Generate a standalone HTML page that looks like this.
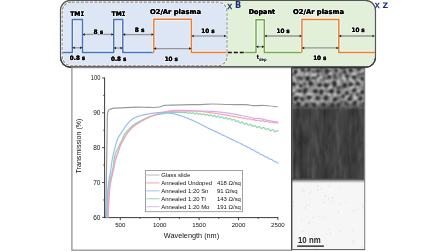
<!DOCTYPE html>
<html><head><meta charset="utf-8"><title>Figure</title>
<style>html,body{margin:0;padding:0;background:#ffffff;width:448px;height:252px;overflow:hidden}svg{display:block}</style>
</head><body>
<svg width="448" height="252" viewBox="0 0 448 252"><rect x="60.5" y="0.5" width="315" height="66.6" rx="9.5" fill="#e2f0d9" stroke="#5a5a5a" stroke-width="1.1"/>
<rect x="62.2" y="2.1" width="164.8" height="63.7" rx="9.5" fill="#dce6f4" stroke="#f7f9fc" stroke-width="2.0"/>
<rect x="62.2" y="2.1" width="164.8" height="63.7" rx="9.5" fill="none" stroke="#8e8e8e" stroke-width="1.05" stroke-dasharray="3.2 1.3"/>
<polyline points="62.5,52.4 72.3,52.4 72.3,19.5 82.5,19.5 82.5,52.4 113.7,52.4 113.7,19.5 122.8,19.5 122.8,52.4 153.8,52.4" fill="none" stroke="#ffffff" stroke-opacity="0.55" stroke-width="3.4"/><polyline points="62.5,52.4 72.3,52.4 72.3,19.5 82.5,19.5 82.5,52.4 113.7,52.4 113.7,19.5 122.8,19.5 122.8,52.4 153.8,52.4" fill="none" stroke="#4472c4" stroke-width="1.45"/>
<polyline points="153.8,52.4 153.8,19.3 191.4,19.3 191.4,52.4 226.5,52.4" fill="none" stroke="#ffffff" stroke-opacity="0.55" stroke-width="3.4"/><polyline points="153.8,52.4 153.8,19.3 191.4,19.3 191.4,52.4 226.5,52.4" fill="none" stroke="#ed7d31" stroke-width="1.45"/>
<line x1="227.8" y1="52.4" x2="243.8" y2="52.4" stroke="#111" stroke-width="1.5" stroke-dasharray="4 2"/>
<polyline points="244.6,52.4 256.0,52.4 256.0,19.8 264.3,19.8 264.3,52.4 301.9,52.4" fill="none" stroke="#ffffff" stroke-opacity="0.55" stroke-width="3.4"/><polyline points="244.6,52.4 256.0,52.4 256.0,19.8 264.3,19.8 264.3,52.4 301.9,52.4" fill="none" stroke="#70ad47" stroke-width="1.45"/>
<polyline points="301.9,52.4 301.9,19.5 338.8,19.5 338.8,52.4 375.0,52.4" fill="none" stroke="#ffffff" stroke-opacity="0.55" stroke-width="3.4"/><polyline points="301.9,52.4 301.9,19.5 338.8,19.5 338.8,52.4 375.0,52.4" fill="none" stroke="#ed7d31" stroke-width="1.45"/>
<line x1="74.14" y1="47.80" x2="80.66" y2="47.80" stroke="#969696" stroke-width="1.3"/><path d="M72.30,47.80 L74.60,46.55 L74.60,49.05 Z" fill="#111"/><path d="M82.50,47.80 L80.20,46.55 L80.20,49.05 Z" fill="#111"/>
<line x1="84.34" y1="34.40" x2="111.86" y2="34.40" stroke="#969696" stroke-width="1.3"/><path d="M82.50,34.40 L84.80,33.15 L84.80,35.65 Z" fill="#111"/><path d="M113.70,34.40 L111.40,33.15 L111.40,35.65 Z" fill="#111"/>
<line x1="115.54" y1="48.00" x2="120.96" y2="48.00" stroke="#969696" stroke-width="1.3"/><path d="M113.70,48.00 L116.00,46.75 L116.00,49.25 Z" fill="#111"/><path d="M122.80,48.00 L120.50,46.75 L120.50,49.25 Z" fill="#111"/>
<line x1="124.64" y1="34.60" x2="151.96" y2="34.60" stroke="#969696" stroke-width="1.3"/><path d="M122.80,34.60 L125.10,33.35 L125.10,35.85 Z" fill="#111"/><path d="M153.80,34.60 L151.50,33.35 L151.50,35.85 Z" fill="#111"/>
<line x1="155.64" y1="48.60" x2="189.56" y2="48.60" stroke="#969696" stroke-width="1.3"/><path d="M153.80,48.60 L156.10,47.35 L156.10,49.85 Z" fill="#111"/><path d="M191.40,48.60 L189.10,47.35 L189.10,49.85 Z" fill="#111"/>
<line x1="193.24" y1="36.00" x2="224.66" y2="36.00" stroke="#969696" stroke-width="1.3"/><path d="M191.40,36.00 L193.70,34.75 L193.70,37.25 Z" fill="#111"/><path d="M226.50,36.00 L224.20,34.75 L224.20,37.25 Z" fill="#111"/>
<line x1="257.84" y1="46.70" x2="262.46" y2="46.70" stroke="#969696" stroke-width="1.3"/><path d="M256.00,46.70 L258.30,45.45 L258.30,47.95 Z" fill="#111"/><path d="M264.30,46.70 L262.00,45.45 L262.00,47.95 Z" fill="#111"/>
<line x1="266.14" y1="36.00" x2="300.06" y2="36.00" stroke="#969696" stroke-width="1.3"/><path d="M264.30,36.00 L266.60,34.75 L266.60,37.25 Z" fill="#111"/><path d="M301.90,36.00 L299.60,34.75 L299.60,37.25 Z" fill="#111"/>
<line x1="303.74" y1="47.90" x2="336.96" y2="47.90" stroke="#969696" stroke-width="1.3"/><path d="M301.90,47.90 L304.20,46.65 L304.20,49.15 Z" fill="#111"/><path d="M338.80,47.90 L336.50,46.65 L336.50,49.15 Z" fill="#111"/>
<line x1="340.64" y1="36.00" x2="372.96" y2="36.00" stroke="#969696" stroke-width="1.3"/><path d="M338.80,36.00 L341.10,34.75 L341.10,37.25 Z" fill="#111"/><path d="M374.80,36.00 L372.50,34.75 L372.50,37.25 Z" fill="#111"/>
<g stroke="#ffffff" stroke-width="1.7" stroke-opacity="0.7" stroke-linejoin="round" paint-order="stroke"><text x="70.20" y="15.50" font-family="DejaVu Sans, Verdana, sans-serif" font-weight="bold" font-size="6.30" text-anchor="start" fill="#000" textLength="13.9" lengthAdjust="spacingAndGlyphs">TM<tspan font-family="DejaVu Sans Mono">I</tspan></text><text x="111.60" y="15.50" font-family="DejaVu Sans, Verdana, sans-serif" font-weight="bold" font-size="6.30" text-anchor="start" fill="#000" textLength="13.9" lengthAdjust="spacingAndGlyphs">TM<tspan font-family="DejaVu Sans Mono">I</tspan></text><text x="150.00" y="14.00" font-family="DejaVu Sans, Verdana, sans-serif" font-weight="bold" font-size="6.70" text-anchor="start" fill="#000" textLength="51.0" lengthAdjust="spacingAndGlyphs">O2/Ar plasma</text><text x="248.80" y="14.00" font-family="DejaVu Sans, Verdana, sans-serif" font-weight="bold" font-size="6.70" text-anchor="start" fill="#000" textLength="26.2" lengthAdjust="spacingAndGlyphs">Dopant</text><text x="293.10" y="14.00" font-family="DejaVu Sans, Verdana, sans-serif" font-weight="bold" font-size="6.70" text-anchor="start" fill="#000" textLength="51.0" lengthAdjust="spacingAndGlyphs">O2/Ar plasma</text><text x="77.50" y="59.80" font-family="DejaVu Sans, Verdana, sans-serif" font-weight="bold" font-size="6.00" text-anchor="middle" fill="#000" textLength="15.4" lengthAdjust="spacingAndGlyphs">0.8 s</text><text x="118.70" y="61.30" font-family="DejaVu Sans, Verdana, sans-serif" font-weight="bold" font-size="6.00" text-anchor="middle" fill="#000" textLength="15.4" lengthAdjust="spacingAndGlyphs">0.8 s</text><text x="98.40" y="33.50" font-family="DejaVu Sans, Verdana, sans-serif" font-weight="bold" font-size="6.00" text-anchor="middle" fill="#000" textLength="9.7" lengthAdjust="spacingAndGlyphs">8 s</text><text x="139.70" y="32.30" font-family="DejaVu Sans, Verdana, sans-serif" font-weight="bold" font-size="6.00" text-anchor="middle" fill="#000" textLength="9.7" lengthAdjust="spacingAndGlyphs">8 s</text><text x="171.30" y="60.60" font-family="DejaVu Sans, Verdana, sans-serif" font-weight="bold" font-size="6.00" text-anchor="middle" fill="#000" textLength="13.3" lengthAdjust="spacingAndGlyphs">10 s</text><text x="207.90" y="32.60" font-family="DejaVu Sans, Verdana, sans-serif" font-weight="bold" font-size="6.00" text-anchor="middle" fill="#000" textLength="13.3" lengthAdjust="spacingAndGlyphs">10 s</text><text x="283.10" y="32.80" font-family="DejaVu Sans, Verdana, sans-serif" font-weight="bold" font-size="6.00" text-anchor="middle" fill="#000" textLength="13.3" lengthAdjust="spacingAndGlyphs">10 s</text><text x="319.80" y="59.90" font-family="DejaVu Sans, Verdana, sans-serif" font-weight="bold" font-size="6.00" text-anchor="middle" fill="#000" textLength="13.3" lengthAdjust="spacingAndGlyphs">10 s</text><text x="358.10" y="31.80" font-family="DejaVu Sans, Verdana, sans-serif" font-weight="bold" font-size="6.00" text-anchor="middle" fill="#000" textLength="13.3" lengthAdjust="spacingAndGlyphs">10 s</text></g>
<g stroke="#000" stroke-width="0.22" stroke-linejoin="round"><text x="70.20" y="15.50" font-family="DejaVu Sans, Verdana, sans-serif" font-weight="bold" font-size="6.30" text-anchor="start" fill="#000" textLength="13.9" lengthAdjust="spacingAndGlyphs">TM<tspan font-family="DejaVu Sans Mono">I</tspan></text><text x="111.60" y="15.50" font-family="DejaVu Sans, Verdana, sans-serif" font-weight="bold" font-size="6.30" text-anchor="start" fill="#000" textLength="13.9" lengthAdjust="spacingAndGlyphs">TM<tspan font-family="DejaVu Sans Mono">I</tspan></text><text x="150.00" y="14.00" font-family="DejaVu Sans, Verdana, sans-serif" font-weight="bold" font-size="6.70" text-anchor="start" fill="#000" textLength="51.0" lengthAdjust="spacingAndGlyphs">O2/Ar plasma</text><text x="248.80" y="14.00" font-family="DejaVu Sans, Verdana, sans-serif" font-weight="bold" font-size="6.70" text-anchor="start" fill="#000" textLength="26.2" lengthAdjust="spacingAndGlyphs">Dopant</text><text x="293.10" y="14.00" font-family="DejaVu Sans, Verdana, sans-serif" font-weight="bold" font-size="6.70" text-anchor="start" fill="#000" textLength="51.0" lengthAdjust="spacingAndGlyphs">O2/Ar plasma</text><text x="77.50" y="59.80" font-family="DejaVu Sans, Verdana, sans-serif" font-weight="bold" font-size="6.00" text-anchor="middle" fill="#000" textLength="15.4" lengthAdjust="spacingAndGlyphs">0.8 s</text><text x="118.70" y="61.30" font-family="DejaVu Sans, Verdana, sans-serif" font-weight="bold" font-size="6.00" text-anchor="middle" fill="#000" textLength="15.4" lengthAdjust="spacingAndGlyphs">0.8 s</text><text x="98.40" y="33.50" font-family="DejaVu Sans, Verdana, sans-serif" font-weight="bold" font-size="6.00" text-anchor="middle" fill="#000" textLength="9.7" lengthAdjust="spacingAndGlyphs">8 s</text><text x="139.70" y="32.30" font-family="DejaVu Sans, Verdana, sans-serif" font-weight="bold" font-size="6.00" text-anchor="middle" fill="#000" textLength="9.7" lengthAdjust="spacingAndGlyphs">8 s</text><text x="171.30" y="60.60" font-family="DejaVu Sans, Verdana, sans-serif" font-weight="bold" font-size="6.00" text-anchor="middle" fill="#000" textLength="13.3" lengthAdjust="spacingAndGlyphs">10 s</text><text x="207.90" y="32.60" font-family="DejaVu Sans, Verdana, sans-serif" font-weight="bold" font-size="6.00" text-anchor="middle" fill="#000" textLength="13.3" lengthAdjust="spacingAndGlyphs">10 s</text><text x="283.10" y="32.80" font-family="DejaVu Sans, Verdana, sans-serif" font-weight="bold" font-size="6.00" text-anchor="middle" fill="#000" textLength="13.3" lengthAdjust="spacingAndGlyphs">10 s</text><text x="319.80" y="59.90" font-family="DejaVu Sans, Verdana, sans-serif" font-weight="bold" font-size="6.00" text-anchor="middle" fill="#000" textLength="13.3" lengthAdjust="spacingAndGlyphs">10 s</text><text x="358.10" y="31.80" font-family="DejaVu Sans, Verdana, sans-serif" font-weight="bold" font-size="6.00" text-anchor="middle" fill="#000" textLength="13.3" lengthAdjust="spacingAndGlyphs">10 s</text></g>
<text x="256.6" y="58.9" font-family="DejaVu Sans, sans-serif" font-weight="bold" font-size="6.0" fill="#000" stroke="#fff" stroke-width="1.4" stroke-opacity="0.7" paint-order="stroke">t</text>
<text x="258.9" y="60.5" font-family="DejaVu Sans, sans-serif" font-weight="bold" font-size="4.3" fill="#000" textLength="7.8" lengthAdjust="spacingAndGlyphs" stroke="#fff" stroke-width="1.2" stroke-opacity="0.7" paint-order="stroke">dep</text>
<text x="227.3" y="8.5" font-family="DejaVu Sans, sans-serif" font-size="8.4" fill="#1c2a7c" stroke="#1c2a7c" stroke-width="0.3">x</text><text x="235.0" y="8.2" font-family="DejaVu Sans, sans-serif" font-weight="bold" font-size="8.1" fill="#1c2a7c">B</text>
<text x="374.7" y="8.0" font-family="DejaVu Sans, sans-serif" font-size="8.4" fill="#1c2a7c" stroke="#1c2a7c" stroke-width="0.3">x</text><text x="382.6" y="7.5" font-family="DejaVu Sans, sans-serif" font-weight="bold" font-size="7.7" fill="#1c2a7c">Z</text>
<rect x="60.5" y="0.5" width="315" height="66.6" rx="9.5" fill="none" stroke="#555" stroke-width="1.1"/>
<path d="M60.5,57.6 A9.5,9.5 0 0 0 70,67.1 L366,67.1 A9.5,9.5 0 0 0 375.5,57.6" fill="none" stroke="#3a3a3a" stroke-width="1.1"/>
<rect x="71.9" y="67.6" width="219.7" height="182.6" fill="#ffffff" stroke="#8a8a8a" stroke-width="1.2"/>
<line x1="104.6" y1="77.5" x2="104.6" y2="217.9" stroke="#222" stroke-width="0.9"/>
<line x1="104.2" y1="217.6" x2="278.3" y2="217.6" stroke="#222" stroke-width="0.9"/>
<line x1="102.1" y1="217.40" x2="104.6" y2="217.40" stroke="#222" stroke-width="0.8"/>
<text x="100.4" y="219.70" font-family="Liberation Sans, Arial, sans-serif" font-size="6.5" text-anchor="end" fill="#111">60</text>
<line x1="102.1" y1="182.55" x2="104.6" y2="182.55" stroke="#222" stroke-width="0.8"/>
<text x="100.4" y="184.85" font-family="Liberation Sans, Arial, sans-serif" font-size="6.5" text-anchor="end" fill="#111">70</text>
<line x1="102.1" y1="147.70" x2="104.6" y2="147.70" stroke="#222" stroke-width="0.8"/>
<text x="100.4" y="150.00" font-family="Liberation Sans, Arial, sans-serif" font-size="6.5" text-anchor="end" fill="#111">80</text>
<line x1="102.1" y1="112.85" x2="104.6" y2="112.85" stroke="#222" stroke-width="0.8"/>
<text x="100.4" y="115.15" font-family="Liberation Sans, Arial, sans-serif" font-size="6.5" text-anchor="end" fill="#111">90</text>
<line x1="102.1" y1="78.00" x2="104.6" y2="78.00" stroke="#222" stroke-width="0.8"/>
<text x="100.4" y="80.30" font-family="Liberation Sans, Arial, sans-serif" font-size="6.5" text-anchor="end" fill="#111" textLength="9.6" lengthAdjust="spacingAndGlyphs">100</text>
<line x1="103.2" y1="199.97" x2="104.6" y2="199.97" stroke="#222" stroke-width="0.7"/>
<line x1="103.2" y1="165.12" x2="104.6" y2="165.12" stroke="#222" stroke-width="0.7"/>
<line x1="103.2" y1="130.28" x2="104.6" y2="130.28" stroke="#222" stroke-width="0.7"/>
<line x1="103.2" y1="95.43" x2="104.6" y2="95.43" stroke="#222" stroke-width="0.7"/>
<line x1="120.30" y1="217.6" x2="120.30" y2="220.1" stroke="#222" stroke-width="0.8"/>
<text x="120.30" y="227.4" font-family="Liberation Sans, Arial, sans-serif" font-size="6.1" text-anchor="middle" fill="#111">500</text>
<line x1="159.70" y1="217.6" x2="159.70" y2="220.1" stroke="#222" stroke-width="0.8"/>
<text x="159.70" y="227.4" font-family="Liberation Sans, Arial, sans-serif" font-size="6.1" text-anchor="middle" fill="#111">1000</text>
<line x1="199.10" y1="217.6" x2="199.10" y2="220.1" stroke="#222" stroke-width="0.8"/>
<text x="199.10" y="227.4" font-family="Liberation Sans, Arial, sans-serif" font-size="6.1" text-anchor="middle" fill="#111">1500</text>
<line x1="238.50" y1="217.6" x2="238.50" y2="220.1" stroke="#222" stroke-width="0.8"/>
<text x="238.50" y="227.4" font-family="Liberation Sans, Arial, sans-serif" font-size="6.1" text-anchor="middle" fill="#111">2000</text>
<line x1="277.90" y1="217.6" x2="277.90" y2="220.1" stroke="#222" stroke-width="0.8"/>
<text x="277.90" y="227.4" font-family="Liberation Sans, Arial, sans-serif" font-size="6.1" text-anchor="middle" fill="#111">2500</text>
<line x1="140.00" y1="217.6" x2="140.00" y2="219.0" stroke="#222" stroke-width="0.7"/>
<line x1="179.40" y1="217.6" x2="179.40" y2="219.0" stroke="#222" stroke-width="0.7"/>
<line x1="218.80" y1="217.6" x2="218.80" y2="219.0" stroke="#222" stroke-width="0.7"/>
<line x1="258.20" y1="217.6" x2="258.20" y2="219.0" stroke="#222" stroke-width="0.7"/>
<text x="191.5" y="238.3" font-family="Liberation Sans, Arial, sans-serif" font-size="7.3" text-anchor="middle" fill="#111">Wavelength (nm)</text>
<text transform="translate(80.9,146.0) rotate(-90)" font-family="Liberation Sans, Arial, sans-serif" font-size="7.1" text-anchor="middle" fill="#111">Transmission (%)</text>
<path d="M105.80,217.40 C105.87,212.83 106.05,199.57 106.20,190.00 C106.35,180.43 106.55,169.17 106.70,160.00 C106.85,150.83 107.00,142.00 107.10,135.00 C107.20,128.00 107.22,121.67 107.30,118.00 C107.38,114.33 107.43,114.23 107.60,113.00 C107.77,111.77 107.98,111.18 108.30,110.60 C108.62,110.02 108.77,109.87 109.50,109.50 C110.23,109.13 111.62,108.63 112.70,108.40 C113.78,108.17 113.95,108.23 116.00,108.10 C118.05,107.97 121.33,107.75 125.00,107.60 C128.67,107.45 134.50,107.25 138.00,107.20 C141.50,107.15 143.33,107.25 146.00,107.30 C148.67,107.35 151.75,107.55 154.00,107.50 C156.25,107.45 158.08,107.25 159.50,107.00 C160.92,106.75 161.67,106.27 162.50,106.00 C163.33,105.73 163.25,105.53 164.50,105.40 C165.75,105.27 167.03,105.30 170.00,105.20 C172.97,105.10 177.63,104.90 182.30,104.80 C186.97,104.70 193.00,104.73 198.00,104.60 C203.00,104.47 207.30,104.02 212.30,104.00 C217.30,103.98 222.38,104.38 228.00,104.50 C233.62,104.62 241.78,104.50 246.00,104.70 C250.22,104.90 250.30,105.57 253.30,105.70 C256.30,105.83 259.97,105.32 264.00,105.50 C268.03,105.68 275.25,106.58 277.50,106.80" stroke="#9a9a9a" fill="none" stroke-width="1.2" stroke-linejoin="round"/>
<path d="M107.90,217.40 C108.07,213.50 108.48,199.90 108.90,194.00 C109.32,188.10 109.70,186.00 110.40,182.00 C111.10,178.00 112.33,173.62 113.10,170.00 C113.87,166.38 114.28,163.03 115.00,160.30 C115.72,157.57 116.58,155.98 117.40,153.60 C118.22,151.22 118.95,148.32 119.90,146.00 C120.85,143.68 122.00,141.70 123.10,139.70 C124.20,137.70 125.53,135.47 126.50,134.00 C127.47,132.53 127.77,132.18 128.90,130.90 C130.03,129.62 131.52,127.75 133.30,126.30 C135.08,124.85 137.57,123.45 139.60,122.20 C141.63,120.95 143.17,119.93 145.50,118.80 C147.83,117.67 150.88,116.37 153.60,115.40 C156.32,114.43 159.12,113.63 161.80,113.00 C164.48,112.37 167.08,111.90 169.70,111.60 C172.32,111.30 174.62,111.28 177.50,111.20 C180.38,111.12 183.58,111.13 187.00,111.10 C190.42,111.07 193.78,110.97 198.00,111.00 C202.22,111.03 206.97,110.92 212.30,111.30 C217.63,111.68 225.47,112.67 230.00,113.30 C234.53,113.93 236.33,114.48 239.50,115.10 C242.67,115.72 246.42,116.43 249.00,117.00 C251.58,117.57 253.32,118.28 255.00,118.50 C256.68,118.72 257.22,118.03 259.10,118.30 C260.98,118.57 263.38,119.52 266.30,120.10 C269.22,120.68 274.62,121.50 276.60,121.80 C278.58,122.10 277.93,121.88 278.20,121.90" stroke="#cdb0f4" fill="none" stroke-width="1.2" stroke-linejoin="round"/>
<path d="M107.20,217.40 L107.28,214.72 L107.39,210.91 L107.51,206.45 L107.66,201.82 L107.82,197.51 L108.00,194.00 L108.18,191.34 L108.36,189.16 L108.55,187.29 L108.78,185.58 L109.06,183.87 L109.40,182.00 L109.85,179.97 L110.40,177.91 L111.00,175.86 L111.60,173.83 L112.15,171.87 L112.60,170.00 L112.94,168.22 L113.20,166.49 L113.41,164.82 L113.60,163.23 L113.79,161.72 L114.00,160.30 L114.21,159.02 L114.39,157.88 L114.57,156.82 L114.78,155.79 L115.05,154.73 L115.40,153.60 L115.87,152.36 L116.44,151.05 L117.07,149.71 L117.71,148.40 L118.34,147.14 L118.90,146.00 L119.39,145.00 L119.85,144.11 L120.29,143.28 L120.71,142.47 L121.15,141.63 L121.60,140.70 L122.07,139.65 L122.55,138.51 L123.03,137.34 L123.52,136.20 L124.01,135.13 L124.50,134.20 L124.98,133.44 L125.44,132.81 L125.91,132.27 L126.40,131.75 L126.92,131.21 L127.50,130.60 L128.14,129.90 L128.82,129.15 L129.54,128.38 L130.28,127.61 L131.04,126.88 L131.80,126.20 L132.59,125.57 L133.00,125.27 L133.41,124.96 L133.84,124.68 L134.26,124.39 L134.67,124.12 L135.09,123.85 L135.88,123.35 L136.60,122.90 L137.22,122.52 L137.74,122.23 L138.23,121.97 L138.73,121.72 L139.30,121.44 L140.00,121.10 L140.41,120.90 L140.81,120.69 L141.26,120.47 L141.70,120.24 L142.18,120.00 L142.66,119.76 L143.17,119.52 L143.69,119.27 L144.23,119.02 L144.77,118.78 L145.33,118.54 L145.90,118.30 L146.30,118.14 L146.71,117.98 L147.11,117.82 L147.55,117.65 L147.98,117.49 L148.41,117.32 L148.87,117.16 L149.32,116.99 L149.78,116.83 L150.24,116.66 L150.70,116.50 L151.16,116.34 L151.62,116.20 L152.09,116.05 L152.55,115.90 L153.00,115.76 L153.45,115.63 L153.90,115.50 L154.35,115.39 L154.79,115.27 L155.24,115.16 L155.70,115.05 L156.15,114.95 L156.60,114.85 L157.06,114.76 L157.51,114.67 L157.96,114.58 L158.41,114.50 L158.85,114.42 L159.30,114.34 L159.73,114.26 L160.15,114.19 L160.58,114.11 L160.99,114.04 L161.39,113.97 L161.80,113.90 L162.35,113.80 L162.89,113.71 L163.38,113.62 L163.87,113.54 L164.34,113.46 L164.80,113.39 L165.28,113.32 L165.75,113.25 L166.27,113.19 L166.80,113.12 L167.20,113.08 L167.60,113.04 L168.00,113.00 L168.46,112.96 L168.93,112.91 L169.39,112.87 L169.90,112.83 L170.41,112.78 L170.92,112.74 L171.33,112.71 L171.73,112.68 L172.14,112.65 L172.54,112.62 L172.96,112.59 L173.38,112.57 L173.79,112.54 L174.21,112.51 L174.63,112.50 L175.04,112.48 L175.46,112.46 L175.88,112.44 L176.28,112.43 L176.69,112.42 L177.09,112.41 L177.50,112.40 L178.01,112.40 L178.53,112.40 L179.04,112.40 L179.54,112.41 L180.04,112.42 L180.54,112.43 L181.04,112.45 L181.53,112.47 L182.03,112.49 L182.55,112.52 L183.06,112.55 L183.57,112.58 L183.98,112.60 L184.39,112.64 L184.80,112.70 L185.21,112.72 L185.66,112.71 L186.11,112.66 L186.55,112.65 L187.00,112.73 L187.49,112.90 L187.99,113.06 L188.48,113.07 L188.97,112.92 L189.40,112.76 L189.82,112.71 L190.25,112.83 L190.67,113.09 L191.10,113.37 L191.54,113.50 L191.99,113.38 L192.44,113.09 L192.88,112.83 L193.33,112.81 L193.78,113.10 L194.23,113.55 L194.68,113.90 L195.14,113.92 L195.59,113.60 L196.04,113.16 L196.49,112.93 L196.94,113.08 L197.38,113.55 L197.83,114.07 L198.27,114.34 L198.70,114.25 L199.13,113.88 L199.57,113.46 L200.00,113.27 L200.41,113.42 L200.81,113.84 L201.22,114.34 L201.62,114.69 L202.03,114.74 L202.51,114.44 L202.99,113.97 L203.47,113.70 L203.95,113.86 L204.43,114.38 L204.90,114.95 L205.38,115.25 L205.86,115.12 L206.35,114.68 L206.84,114.28 L207.33,114.25 L207.83,114.66 L208.25,115.19 L208.67,115.65 L209.10,115.82 L209.52,115.66 L209.95,115.29 L210.42,114.89 L210.89,114.80 L211.36,115.11 L211.83,115.69 L212.30,116.23 L212.76,116.45 L213.21,116.28 L213.67,115.88 L214.12,115.50 L214.58,115.41 L215.03,115.70 L215.47,116.23 L215.91,116.77 L216.35,117.08 L216.79,117.03 L217.23,116.70 L217.66,116.29 L218.10,116.05 L218.51,116.12 L218.91,116.47 L219.31,116.98 L219.71,117.47 L220.12,117.75 L220.52,117.74 L220.92,117.47 L221.33,117.09 L221.78,116.76 L222.23,116.75 L222.69,117.10 L223.14,117.68 L223.60,118.22 L224.05,118.49 L224.51,118.39 L224.93,118.06 L225.35,117.67 L225.77,117.44 L226.20,117.52 L226.62,117.89 L227.04,118.44 L227.46,118.96 L227.89,119.26 L228.31,119.25 L228.73,118.96 L229.15,118.57 L229.58,118.29 L230.00,118.27 L230.41,118.58 L230.82,119.10 L231.23,119.66 L231.65,120.09 L232.06,120.24 L232.49,120.11 L232.92,119.78 L233.35,119.45 L233.77,119.31 L234.27,119.57 L234.77,120.19 L235.26,120.91 L235.72,121.42 L236.18,121.58 L236.64,121.40 L237.10,121.04 L237.55,120.76 L238.01,120.77 L238.51,121.16 L239.00,121.85 L239.50,122.53 L239.90,122.87 L240.31,122.93 L240.71,122.74 L241.11,122.40 L241.52,122.08 L241.94,121.94 L242.35,122.09 L242.76,122.51 L243.17,123.07 L243.58,123.63 L243.99,124.00 L244.41,124.10 L244.81,123.92 L245.21,123.59 L245.62,123.25 L246.02,123.06 L246.53,123.20 L247.05,123.75 L247.56,124.47 L248.04,125.03 L248.52,125.25 L249.00,125.09 L249.44,124.74 L249.88,124.38 L250.32,124.21 L250.73,124.34 L251.14,124.74 L251.56,125.30 L252.14,126.09 L252.72,126.49 L253.28,126.36 L253.83,125.91 L254.38,125.52 L254.92,125.51 L255.46,125.96 L256.00,126.70 L256.54,127.37 L257.08,127.66 L257.61,127.49 L258.14,127.02 L258.65,126.57 L259.17,126.43 L259.67,126.69 L260.16,127.27 L260.64,127.90 L261.11,128.37 L261.55,128.53 L262.00,128.36 L262.40,128.04 L262.80,127.66 L263.53,127.34 L264.20,127.74 L264.86,128.64 L265.55,129.46 L266.30,129.62 L267.10,129.01 L267.50,128.68 L267.91,128.51 L268.33,128.59 L268.75,128.95 L269.19,129.52 L269.62,130.13 L270.08,130.63 L270.54,130.83 L271.02,130.69 L271.50,130.29 L272.05,129.80 L272.61,129.58 L273.03,129.73 L273.45,130.13 L273.87,130.69 L274.31,131.27 L274.74,131.70 L275.18,131.85 L275.59,131.72 L276.00,131.40 L276.41,131.00 L276.93,130.61 L277.45,130.56 L278.20,131.20" stroke="#90d6aa" fill="none" stroke-width="1.2" stroke-linejoin="round"/>
<path d="M108.20,217.40 L108.32,214.72 L108.47,210.91 L108.66,206.45 L108.86,201.82 L109.08,197.51 L109.30,194.00 L109.51,191.34 L109.73,189.16 L109.95,187.29 L110.20,185.58 L110.48,183.87 L110.80,182.00 L111.19,179.97 L111.64,177.91 L112.12,175.86 L112.61,173.83 L113.08,171.87 L113.50,170.00 L113.86,168.22 L114.17,166.49 L114.47,164.82 L114.76,163.23 L115.06,161.72 L115.40,160.30 L115.77,159.02 L116.16,157.88 L116.56,156.82 L116.97,155.79 L117.39,154.73 L117.80,153.60 L118.20,152.37 L118.60,151.09 L119.00,149.77 L119.41,148.47 L119.84,147.20 L120.30,146.00 L120.79,144.87 L121.31,143.78 L121.84,142.73 L122.39,141.71 L122.95,140.70 L123.50,139.70 L124.07,138.69 L124.66,137.66 L125.25,136.65 L125.83,135.69 L126.39,134.79 L126.90,134.00 L127.33,133.35 L127.70,132.83 L128.04,132.38 L128.39,131.94 L128.80,131.47 L129.30,130.90 L129.90,130.23 L130.55,129.49 L131.26,128.72 L132.02,127.93 L132.43,127.54 L132.83,127.15 L133.27,126.77 L133.70,126.40 L134.17,126.04 L134.64,125.67 L135.16,125.31 L135.67,124.95 L136.22,124.59 L136.76,124.23 L137.31,123.88 L137.86,123.53 L138.41,123.19 L138.95,122.85 L139.48,122.53 L140.00,122.20 L140.49,121.89 L140.98,121.59 L141.45,121.30 L141.92,121.01 L142.38,120.74 L142.84,120.46 L143.32,120.19 L143.79,119.92 L144.30,119.64 L144.80,119.37 L145.35,119.08 L145.90,118.80 L146.30,118.60 L146.71,118.40 L147.11,118.20 L147.55,117.99 L147.98,117.79 L148.41,117.58 L148.87,117.37 L149.32,117.16 L149.78,116.95 L150.24,116.74 L150.70,116.54 L151.16,116.33 L151.62,116.14 L152.09,115.94 L152.55,115.74 L153.00,115.56 L153.45,115.38 L153.90,115.20 L154.34,115.03 L154.78,114.87 L155.22,114.70 L155.66,114.54 L156.10,114.38 L156.54,114.23 L156.98,114.08 L157.42,113.93 L157.86,113.78 L158.29,113.64 L158.73,113.50 L159.17,113.36 L159.61,113.23 L160.05,113.10 L160.48,112.97 L160.92,112.85 L161.36,112.72 L161.80,112.60 L162.24,112.48 L162.68,112.37 L163.12,112.25 L163.56,112.14 L164.00,112.03 L164.44,111.93 L164.88,111.83 L165.32,111.73 L165.76,111.62 L166.20,111.53 L166.63,111.44 L167.07,111.35 L167.51,111.27 L167.95,111.19 L168.39,111.11 L168.83,111.04 L169.26,110.97 L169.70,110.90 L170.13,110.84 L170.56,110.78 L170.99,110.73 L171.41,110.68 L171.82,110.63 L172.24,110.59 L172.66,110.55 L173.08,110.52 L173.50,110.48 L173.93,110.45 L174.35,110.43 L174.78,110.40 L175.22,110.38 L175.66,110.36 L176.10,110.34 L176.57,110.33 L177.03,110.31 L177.50,110.30 L177.98,110.29 L178.46,110.29 L178.94,110.28 L179.43,110.28 L179.92,110.28 L180.41,110.29 L180.92,110.29 L181.42,110.30 L181.93,110.31 L182.45,110.33 L182.98,110.34 L183.51,110.36 L183.93,110.38 L184.35,110.39 L184.77,110.41 L185.19,110.42 L185.65,110.44 L186.10,110.46 L186.55,110.48 L187.00,110.50 L187.49,110.52 L187.99,110.54 L188.48,110.57 L188.97,110.59 L189.40,110.61 L189.82,110.63 L190.25,110.65 L190.67,110.67 L191.10,110.69 L191.54,110.72 L191.99,110.74 L192.44,110.76 L192.88,110.79 L193.33,110.81 L193.78,110.84 L194.23,110.87 L194.68,110.90 L195.14,110.92 L195.59,110.95 L196.04,110.98 L196.49,111.02 L196.94,111.05 L197.38,111.08 L197.83,111.11 L198.27,111.15 L198.70,111.19 L199.13,111.23 L199.57,111.26 L200.00,111.30 L200.41,111.34 L200.81,111.38 L201.22,111.42 L201.62,111.47 L202.03,111.51 L202.51,111.56 L202.99,111.62 L203.47,111.67 L203.95,111.73 L204.43,111.79 L204.90,111.85 L205.38,111.91 L205.86,111.97 L206.35,112.04 L206.84,112.11 L207.33,112.18 L207.83,112.25 L208.25,112.31 L208.67,112.37 L209.10,112.43 L209.52,112.49 L209.95,112.55 L210.42,112.62 L210.89,112.69 L211.36,112.76 L211.83,112.83 L212.30,112.90 L212.76,112.97 L213.21,113.04 L213.67,113.10 L214.12,113.17 L214.58,113.24 L215.03,113.31 L215.47,113.38 L215.91,113.45 L216.35,113.51 L216.79,113.58 L217.23,113.65 L217.66,113.72 L218.10,113.79 L218.51,113.85 L218.91,113.91 L219.31,113.98 L219.71,114.04 L220.12,114.10 L220.52,114.17 L220.92,114.23 L221.33,114.29 L221.78,114.37 L222.23,114.44 L222.69,114.51 L223.14,114.59 L223.60,114.66 L224.05,114.73 L224.51,114.80 L224.93,114.87 L225.35,114.94 L225.77,115.01 L226.20,115.08 L226.62,115.15 L227.04,115.21 L227.46,115.28 L227.89,115.35 L228.31,115.42 L228.73,115.49 L229.15,115.56 L229.58,115.63 L230.00,115.70 L230.41,115.78 L230.82,115.86 L231.23,115.94 L231.65,116.00 L232.06,116.04 L232.49,116.08 L232.92,116.12 L233.35,116.20 L233.77,116.32 L234.27,116.49 L234.77,116.66 L235.26,116.76 L235.72,116.78 L236.18,116.75 L236.64,116.73 L237.10,116.77 L237.55,116.91 L238.01,117.12 L238.51,117.38 L239.00,117.56 L239.50,117.61 L239.90,117.55 L240.31,117.45 L240.71,117.37 L241.11,117.37 L241.52,117.48 L241.94,117.70 L242.35,117.98 L242.76,118.22 L243.17,118.36 L243.58,118.38 L243.99,118.29 L244.41,118.15 L244.81,118.04 L245.21,118.03 L245.62,118.13 L246.02,118.34 L246.53,118.68 L247.05,118.97 L247.56,119.09 L248.04,119.04 L248.52,118.89 L249.00,118.75 L249.42,118.73 L249.85,118.84 L250.27,119.06 L250.83,119.45 L251.40,119.75 L251.92,119.85 L252.45,119.76 L252.98,119.59 L253.51,119.49 L254.09,119.58 L254.67,119.88 L255.11,120.17 L255.56,120.42 L256.00,120.56 L256.51,120.53 L257.02,120.37 L257.53,120.20 L257.94,120.12 L258.36,120.17 L258.77,120.33 L259.19,120.58 L259.63,120.85 L260.07,121.06 L260.51,121.14 L260.94,121.09 L261.39,120.94 L261.84,120.77 L262.29,120.67 L262.74,120.70 L263.19,120.86 L263.64,121.13 L264.09,121.41 L264.55,121.61 L264.98,121.70 L265.42,121.64 L265.86,121.50 L266.30,121.33 L266.75,121.23 L267.21,121.25 L267.66,121.41 L268.12,121.68 L268.60,121.99 L269.09,122.22 L269.57,122.29 L270.06,122.22 L270.54,122.05 L271.02,121.88 L271.51,121.82 L271.99,121.91 L272.45,122.14 L272.90,122.43 L273.36,122.70 L273.81,122.88 L274.34,122.91 L274.86,122.79 L275.39,122.59 L275.79,122.48 L276.20,122.46 L276.60,122.55 L277.39,122.99 L277.84,123.31 L278.04,123.46 L278.11,123.53 L278.13,123.57 L278.20,123.63" stroke="#f5a4b5" fill="none" stroke-width="1.2" stroke-linejoin="round"/>
<path d="M106.60,217.40 L106.71,214.72 L106.86,210.91 L107.03,206.45 L107.22,201.82 L107.42,197.51 L107.60,194.00 L107.77,191.34 L107.93,189.16 L108.09,187.29 L108.26,185.58 L108.46,183.87 L108.70,182.00 L108.99,179.97 L109.32,177.91 L109.68,175.86 L110.04,173.83 L110.39,171.87 L110.70,170.00 L110.97,168.22 L111.21,166.49 L111.44,164.82 L111.66,163.23 L111.87,161.72 L112.10,160.30 L112.33,159.02 L112.55,157.88 L112.77,156.82 L113.00,155.79 L113.24,154.73 L113.50,153.60 L113.79,152.37 L114.10,151.09 L114.42,149.77 L114.75,148.47 L115.08,147.20 L115.40,146.00 L115.71,144.86 L116.00,143.77 L116.29,142.71 L116.59,141.69 L116.93,140.68 L117.30,139.70 L117.72,138.74 L118.19,137.80 L118.68,136.88 L119.19,135.99 L119.70,135.13 L120.20,134.30 L120.68,133.52 L121.16,132.80 L121.64,132.11 L122.14,131.41 L122.65,130.69 L123.20,129.90 L123.78,129.04 L124.37,128.12 L124.99,127.18 L125.63,126.22 L126.30,125.29 L127.00,124.40 L127.74,123.54 L128.53,122.67 L128.93,122.25 L129.34,121.83 L129.75,121.42 L130.16,121.02 L130.58,120.64 L130.99,120.27 L131.39,119.94 L131.80,119.60 L132.59,119.02 L133.38,118.50 L134.16,118.05 L134.96,117.64 L135.36,117.45 L135.77,117.26 L136.18,117.08 L136.60,116.90 L137.04,116.73 L137.48,116.56 L137.95,116.41 L138.41,116.26 L138.88,116.12 L139.36,115.99 L139.82,115.86 L140.29,115.74 L140.73,115.63 L141.18,115.51 L141.59,115.41 L142.00,115.30 L142.69,115.11 L143.26,114.96 L143.79,114.83 L144.35,114.70 L145.03,114.57 L145.47,114.48 L145.90,114.40 L146.45,114.30 L147.00,114.20 L147.42,114.12 L147.84,114.05 L148.27,113.97 L148.73,113.90 L149.19,113.82 L149.65,113.74 L150.13,113.66 L150.61,113.58 L151.09,113.50 L151.57,113.43 L152.05,113.36 L152.53,113.29 L152.98,113.22 L153.44,113.16 L153.90,113.10 L154.35,113.04 L154.79,112.99 L155.24,112.93 L155.70,112.88 L156.15,112.83 L156.60,112.78 L157.06,112.73 L157.51,112.68 L157.96,112.64 L158.41,112.60 L158.85,112.56 L159.30,112.52 L159.73,112.49 L160.15,112.47 L160.58,112.44 L160.99,112.43 L161.39,112.41 L161.80,112.40 L162.37,112.41 L162.95,112.41 L163.50,112.44 L164.04,112.47 L164.57,112.52 L165.09,112.56 L165.60,112.62 L166.10,112.67 L166.58,112.73 L167.07,112.79 L167.53,112.85 L168.00,112.90 L168.44,112.95 L168.88,113.00 L169.29,113.05 L169.71,113.10 L170.49,113.21 L171.26,113.32 L172.02,113.45 L172.80,113.60 L173.59,113.77 L174.37,113.96 L175.15,114.16 L175.93,114.37 L176.71,114.58 L177.50,114.80 L178.30,115.02 L178.70,115.12 L179.10,115.23 L179.50,115.34 L179.90,115.46 L180.30,115.57 L180.70,115.69 L181.10,115.81 L181.50,115.94 L182.30,116.20 L183.09,116.49 L183.87,116.80 L184.65,117.12 L185.43,117.45 L186.21,117.78 L187.00,118.10 L187.79,118.41 L188.59,118.72 L188.99,118.87 L189.39,119.02 L189.80,119.18 L190.20,119.34 L190.60,119.50 L191.00,119.66 L191.40,119.83 L191.80,120.00 L192.21,120.18 L192.62,120.37 L193.03,120.57 L193.45,120.76 L193.87,120.97 L194.29,121.17 L194.70,121.37 L195.10,121.57 L195.88,121.95 L196.60,122.30 L197.18,122.57 L197.63,122.77 L198.03,122.95 L198.50,123.16 L199.12,123.46 L199.56,123.68 L200.00,123.90 L200.58,124.20 L201.16,124.50 L201.62,124.74 L202.08,124.98 L202.54,125.22 L203.05,125.49 L203.56,125.76 L204.07,126.03 L204.48,126.24 L204.89,126.45 L205.30,126.67 L205.71,126.88 L206.13,127.10 L206.55,127.32 L206.98,127.53 L207.40,127.75 L207.83,127.96 L208.25,128.18 L208.68,128.39 L209.10,128.60 L209.53,128.81 L209.97,129.02 L210.40,129.23 L210.83,129.44 L211.29,129.65 L211.74,129.86 L212.20,130.08 L212.65,130.29 L213.12,130.51 L213.59,130.73 L214.06,130.95 L214.52,131.16 L215.00,131.38 L215.48,131.60 L215.95,131.82 L216.43,132.04 L216.90,132.26 L217.38,132.48 L217.85,132.70 L218.33,132.92 L218.80,133.14 L219.26,133.36 L219.73,133.58 L220.20,133.80 L220.67,134.02 L221.14,134.25 L221.61,134.47 L222.08,134.69 L222.56,134.92 L223.03,135.15 L223.51,135.37 L223.99,135.60 L224.47,135.83 L224.94,136.06 L225.42,136.28 L225.90,136.51 L226.37,136.74 L226.84,136.96 L227.31,137.19 L227.78,137.41 L228.23,137.63 L228.68,137.85 L229.14,138.06 L229.59,138.28 L230.02,138.48 L230.44,138.69 L230.87,138.89 L231.30,139.10 L231.82,139.35 L232.34,139.60 L232.86,139.85 L233.34,140.07 L233.81,140.30 L234.29,140.53 L234.74,140.75 L235.20,140.96 L235.65,141.18 L236.10,141.40 L236.56,141.62 L237.01,141.84 L237.49,142.07 L237.96,142.30 L238.44,142.54 L238.96,142.81 L239.48,143.07 L240.00,143.30 L240.43,143.48 L240.86,143.67 L241.28,143.87 L241.71,144.11 L242.16,144.38 L242.62,144.66 L243.07,144.92 L243.52,145.14 L243.99,145.31 L244.46,145.46 L244.93,145.62 L245.40,145.84 L245.88,146.14 L246.36,146.49 L246.83,146.84 L247.31,147.14 L247.79,147.34 L248.27,147.47 L248.74,147.56 L249.22,147.70 L249.69,147.94 L250.16,148.29 L250.63,148.70 L251.10,149.09 L251.56,149.40 L252.02,149.60 L252.49,149.70 L252.95,149.79 L253.41,149.92 L253.88,150.16 L254.34,150.50 L254.80,150.91 L255.26,151.33 L255.72,151.68 L256.19,151.92 L256.65,152.07 L257.11,152.16 L257.57,152.28 L258.04,152.47 L258.50,152.77 L258.96,153.16 L259.42,153.58 L259.89,153.97 L260.35,154.27 L260.81,154.45 L261.27,154.55 L261.74,154.63 L262.20,154.76 L262.68,154.99 L263.16,155.34 L263.64,155.75 L264.12,156.16 L264.52,156.45 L264.92,156.66 L265.32,156.79 L265.72,156.86 L266.13,156.92 L266.53,157.00 L266.93,157.15 L267.33,157.37 L267.73,157.67 L268.13,158.01 L268.61,158.42 L269.09,158.75 L269.57,158.98 L270.05,159.10 L270.49,159.16 L270.93,159.23 L271.37,159.36 L271.80,159.58 L272.30,159.95 L272.80,160.38 L273.30,160.80 L273.71,161.08 L274.13,161.29 L274.54,161.42 L275.07,161.51 L275.60,161.62 L276.05,161.79 L276.49,162.05 L277.23,162.66 L277.83,163.20 L278.30,163.56" stroke="#9abbf3" fill="none" stroke-width="1.2" stroke-linejoin="round"/>
<rect x="145.5" y="170.5" width="97" height="41.2" fill="#ffffff" stroke="#8a8a8a" stroke-width="0.8"/>
<line x1="146.3" y1="175.00" x2="159.6" y2="175.00" stroke="#c2c2c2" stroke-width="1.15"/>
<text x="161.2" y="177.30" font-family="Liberation Sans, Arial, sans-serif" font-size="5.95" fill="#111">Glass slide</text>
<line x1="146.3" y1="182.92" x2="159.6" y2="182.92" stroke="#f7aeb8" stroke-width="1.15"/>
<text x="161.2" y="185.22" font-family="Liberation Sans, Arial, sans-serif" font-size="5.95" fill="#111">Annealed Undoped</text>
<text x="217.0" y="185.22" font-family="Liberation Sans, Arial, sans-serif" font-size="5.95" fill="#111">418 Ω/sq</text>
<line x1="146.3" y1="190.84" x2="159.6" y2="190.84" stroke="#b0c7f4" stroke-width="1.15"/>
<text x="161.2" y="193.14" font-family="Liberation Sans, Arial, sans-serif" font-size="5.95" fill="#111">Annealed 1:20 Sn</text>
<text x="217.0" y="193.14" font-family="Liberation Sans, Arial, sans-serif" font-size="5.95" fill="#111">91 Ω/sq</text>
<line x1="146.3" y1="198.76" x2="159.6" y2="198.76" stroke="#a8dbbd" stroke-width="1.15"/>
<text x="161.2" y="201.06" font-family="Liberation Sans, Arial, sans-serif" font-size="5.95" fill="#111">Annealed 1:20 Ti</text>
<text x="217.0" y="201.06" font-family="Liberation Sans, Arial, sans-serif" font-size="5.95" fill="#111">143 Ω/sq</text>
<line x1="146.3" y1="206.68" x2="159.6" y2="206.68" stroke="#dac4f5" stroke-width="1.15"/>
<text x="161.2" y="208.98" font-family="Liberation Sans, Arial, sans-serif" font-size="5.95" fill="#111">Annealed 1:20 Mo</text>
<text x="217.0" y="208.98" font-family="Liberation Sans, Arial, sans-serif" font-size="5.95" fill="#111">191 Ω/sq</text>
<defs><clipPath id="tc"><rect x="292" y="68" width="73" height="182.0"/></clipPath>
<filter id="bl1" x="-5%" y="-5%" width="110%" height="110%" color-interpolation-filters="sRGB"><feGaussianBlur stdDeviation="1.0"/></filter>
<filter id="blx" x="-5%" y="-5%" width="110%" height="110%" color-interpolation-filters="sRGB"><feGaussianBlur stdDeviation="1.1 0.3"/></filter>
<filter id="nz" x="0" y="0" width="100%" height="100%" color-interpolation-filters="sRGB"><feTurbulence type="fractalNoise" baseFrequency="0.25 0.06" numOctaves="3" seed="5"/><feColorMatrix type="matrix" values="0.33 0.33 0.33 0 0  0.33 0.33 0.33 0 0  0.33 0.33 0.33 0 0  0 0 0 0 1"/></filter>
<linearGradient id="trans" x1="0" y1="0" x2="0" y2="1"><stop offset="0" stop-color="#444" stop-opacity="1"/><stop offset="0.5" stop-color="#8a8a8a" stop-opacity="0.7"/><stop offset="1" stop-color="#f6f6f6" stop-opacity="0"/></linearGradient>
<filter id="pn" x="0" y="0" width="100%" height="100%" color-interpolation-filters="sRGB"><feTurbulence type="fractalNoise" baseFrequency="0.3" numOctaves="2" seed="11"/><feColorMatrix type="matrix" values="1 0 0 0 0  1 0 0 0 0  1 0 0 0 0  0 0 0 0 1"/><feComponentTransfer><feFuncR type="linear" slope="1.8" intercept="-0.4"/><feFuncG type="linear" slope="1.8" intercept="-0.4"/><feFuncB type="linear" slope="1.8" intercept="-0.4"/></feComponentTransfer><feGaussianBlur stdDeviation="0.45"/></filter>
<linearGradient id="t2" x1="0" y1="0" x2="0" y2="1"><stop offset="0" stop-color="#3e3e3e" stop-opacity="0"/><stop offset="1" stop-color="#3e3e3e" stop-opacity="1"/></linearGradient>
</defs>
<g clip-path="url(#tc)">
<rect x="292" y="68" width="73" height="182" fill="#f6f6f6"/>
<g filter="url(#blx)"><rect x="292" y="88" width="1" height="92" fill="rgb(28,28,28)"/><rect x="293" y="88" width="1" height="92" fill="rgb(26,26,26)"/><rect x="294" y="88" width="1" height="92" fill="rgb(25,25,25)"/><rect x="295" y="88" width="1" height="92" fill="rgb(35,35,35)"/><rect x="296" y="88" width="1" height="92" fill="rgb(33,33,33)"/><rect x="297" y="88" width="1" height="92" fill="rgb(30,30,30)"/><rect x="298" y="88" width="1" height="92" fill="rgb(27,27,27)"/><rect x="299" y="88" width="1" height="92" fill="rgb(27,27,27)"/><rect x="300" y="88" width="1" height="92" fill="rgb(26,26,26)"/><rect x="301" y="88" width="1" height="92" fill="rgb(29,29,29)"/><rect x="302" y="88" width="1" height="92" fill="rgb(30,30,30)"/><rect x="303" y="88" width="1" height="92" fill="rgb(32,32,32)"/><rect x="304" y="88" width="1" height="92" fill="rgb(35,35,35)"/><rect x="305" y="88" width="1" height="92" fill="rgb(38,38,38)"/><rect x="306" y="88" width="1" height="92" fill="rgb(37,37,37)"/><rect x="307" y="88" width="1" height="92" fill="rgb(38,38,38)"/><rect x="308" y="88" width="1" height="92" fill="rgb(40,40,40)"/><rect x="309" y="88" width="1" height="92" fill="rgb(42,42,42)"/><rect x="310" y="88" width="1" height="92" fill="rgb(41,41,41)"/><rect x="311" y="88" width="1" height="92" fill="rgb(42,42,42)"/><rect x="312" y="88" width="1" height="92" fill="rgb(45,45,45)"/><rect x="313" y="88" width="1" height="92" fill="rgb(44,44,44)"/><rect x="314" y="88" width="1" height="92" fill="rgb(47,47,47)"/><rect x="315" y="88" width="1" height="92" fill="rgb(46,46,46)"/><rect x="316" y="88" width="1" height="92" fill="rgb(45,45,45)"/><rect x="317" y="88" width="1" height="92" fill="rgb(43,43,43)"/><rect x="318" y="88" width="1" height="92" fill="rgb(40,40,40)"/><rect x="319" y="88" width="1" height="92" fill="rgb(39,39,39)"/><rect x="320" y="88" width="1" height="92" fill="rgb(33,33,33)"/><rect x="321" y="88" width="1" height="92" fill="rgb(32,32,32)"/><rect x="322" y="88" width="1" height="92" fill="rgb(30,30,30)"/><rect x="323" y="88" width="1" height="92" fill="rgb(29,29,29)"/><rect x="324" y="88" width="1" height="92" fill="rgb(29,29,29)"/><rect x="325" y="88" width="1" height="92" fill="rgb(29,29,29)"/><rect x="326" y="88" width="1" height="92" fill="rgb(30,30,30)"/><rect x="327" y="88" width="1" height="92" fill="rgb(32,32,32)"/><rect x="328" y="88" width="1" height="92" fill="rgb(34,34,34)"/><rect x="329" y="88" width="1" height="92" fill="rgb(34,34,34)"/><rect x="330" y="88" width="1" height="92" fill="rgb(34,34,34)"/><rect x="331" y="88" width="1" height="92" fill="rgb(35,35,35)"/><rect x="332" y="88" width="1" height="92" fill="rgb(36,36,36)"/><rect x="333" y="88" width="1" height="92" fill="rgb(37,37,37)"/><rect x="334" y="88" width="1" height="92" fill="rgb(40,40,40)"/><rect x="335" y="88" width="1" height="92" fill="rgb(42,42,42)"/><rect x="336" y="88" width="1" height="92" fill="rgb(43,43,43)"/><rect x="337" y="88" width="1" height="92" fill="rgb(46,46,46)"/><rect x="338" y="88" width="1" height="92" fill="rgb(48,48,48)"/><rect x="339" y="88" width="1" height="92" fill="rgb(49,49,49)"/><rect x="340" y="88" width="1" height="92" fill="rgb(48,48,48)"/><rect x="341" y="88" width="1" height="92" fill="rgb(45,45,45)"/><rect x="342" y="88" width="1" height="92" fill="rgb(44,44,44)"/><rect x="343" y="88" width="1" height="92" fill="rgb(38,38,38)"/><rect x="344" y="88" width="1" height="92" fill="rgb(36,36,36)"/><rect x="345" y="88" width="1" height="92" fill="rgb(35,35,35)"/><rect x="346" y="88" width="1" height="92" fill="rgb(32,32,32)"/><rect x="347" y="88" width="1" height="92" fill="rgb(32,32,32)"/><rect x="348" y="88" width="1" height="92" fill="rgb(30,30,30)"/><rect x="349" y="88" width="1" height="92" fill="rgb(32,32,32)"/><rect x="350" y="88" width="1" height="92" fill="rgb(33,33,33)"/><rect x="351" y="88" width="1" height="92" fill="rgb(32,32,32)"/><rect x="352" y="88" width="1" height="92" fill="rgb(33,33,33)"/><rect x="353" y="88" width="1" height="92" fill="rgb(31,31,31)"/><rect x="354" y="88" width="1" height="92" fill="rgb(32,32,32)"/><rect x="355" y="88" width="1" height="92" fill="rgb(32,32,32)"/><rect x="356" y="88" width="1" height="92" fill="rgb(33,33,33)"/><rect x="357" y="88" width="1" height="92" fill="rgb(34,34,34)"/><rect x="358" y="88" width="1" height="92" fill="rgb(38,38,38)"/><rect x="359" y="88" width="1" height="92" fill="rgb(41,41,41)"/><rect x="360" y="88" width="1" height="92" fill="rgb(43,43,43)"/><rect x="361" y="88" width="1" height="92" fill="rgb(46,46,46)"/><rect x="362" y="88" width="1" height="92" fill="rgb(46,46,46)"/><rect x="363" y="88" width="1" height="92" fill="rgb(38,38,38)"/><rect x="364" y="88" width="1" height="92" fill="rgb(38,38,38)"/></g>
<rect x="292" y="96" width="73" height="84" filter="url(#nz)" opacity="0.3"/>
<rect x="292" y="178.3" width="73" height="5.6" fill="url(#trans)"/>
<mask id="pm"><rect x="290" y="66" width="77" height="46" fill="url(#pmg)"/></mask>
<linearGradient id="pmg" x1="0" y1="0" x2="0" y2="1"><stop offset="0.77" stop-color="#fff"/><stop offset="0.96" stop-color="#000"/></linearGradient>
<g mask="url(#pm)"><g filter="url(#bl1)"><rect x="290" y="66" width="77" height="46" fill="#000" filter="url(#pn)"/><circle cx="295.8" cy="71.9" r="3.2" fill="none" stroke="#dadada" stroke-width="1.2" opacity="0.45"/><circle cx="302.8" cy="69.7" r="3.0" fill="none" stroke="#dadada" stroke-width="1.2" opacity="0.45"/><circle cx="309.0" cy="69.8" r="3.0" fill="none" stroke="#dadada" stroke-width="1.2" opacity="0.45"/><circle cx="317.7" cy="70.7" r="3.0" fill="none" stroke="#dadada" stroke-width="1.2" opacity="0.45"/><circle cx="326.6" cy="71.1" r="3.5" fill="none" stroke="#dadada" stroke-width="1.2" opacity="0.45"/><circle cx="336.3" cy="70.4" r="3.2" fill="none" stroke="#dadada" stroke-width="1.2" opacity="0.45"/><circle cx="344.6" cy="72.3" r="3.0" fill="none" stroke="#dadada" stroke-width="1.2" opacity="0.45"/><circle cx="350.4" cy="70.3" r="3.3" fill="none" stroke="#dadada" stroke-width="1.2" opacity="0.45"/><circle cx="358.7" cy="69.6" r="3.2" fill="none" stroke="#dadada" stroke-width="1.2" opacity="0.45"/><circle cx="368.0" cy="72.3" r="3.3" fill="none" stroke="#dadada" stroke-width="1.2" opacity="0.45"/><circle cx="307.7" cy="78.6" r="3.5" fill="none" stroke="#dadada" stroke-width="1.2" opacity="0.45"/><circle cx="329.9" cy="76.9" r="2.9" fill="none" stroke="#dadada" stroke-width="1.2" opacity="0.45"/><circle cx="346.8" cy="76.5" r="3.3" fill="none" stroke="#dadada" stroke-width="1.2" opacity="0.45"/><circle cx="354.2" cy="77.1" r="3.2" fill="none" stroke="#dadada" stroke-width="1.2" opacity="0.45"/><circle cx="362.3" cy="78.8" r="3.2" fill="none" stroke="#dadada" stroke-width="1.2" opacity="0.45"/><circle cx="293.4" cy="83.9" r="3.0" fill="none" stroke="#dadada" stroke-width="1.2" opacity="0.45"/><circle cx="300.5" cy="85.9" r="3.0" fill="none" stroke="#dadada" stroke-width="1.2" opacity="0.45"/><circle cx="310.6" cy="83.3" r="3.6" fill="none" stroke="#dadada" stroke-width="1.2" opacity="0.45"/><circle cx="319.9" cy="85.1" r="3.2" fill="none" stroke="#dadada" stroke-width="1.2" opacity="0.45"/><circle cx="325.6" cy="85.4" r="3.4" fill="none" stroke="#dadada" stroke-width="1.2" opacity="0.45"/><circle cx="334.4" cy="83.8" r="3.6" fill="none" stroke="#dadada" stroke-width="1.2" opacity="0.45"/><circle cx="344.5" cy="85.5" r="3.4" fill="none" stroke="#dadada" stroke-width="1.2" opacity="0.45"/><circle cx="350.4" cy="84.6" r="2.9" fill="none" stroke="#dadada" stroke-width="1.2" opacity="0.45"/><circle cx="357.9" cy="84.0" r="3.4" fill="none" stroke="#dadada" stroke-width="1.2" opacity="0.45"/><circle cx="369.4" cy="84.5" r="3.6" fill="none" stroke="#dadada" stroke-width="1.2" opacity="0.45"/><circle cx="299.7" cy="91.0" r="3.1" fill="none" stroke="#dadada" stroke-width="1.2" opacity="0.45"/><circle cx="305.2" cy="90.6" r="3.5" fill="none" stroke="#dadada" stroke-width="1.2" opacity="0.45"/><circle cx="315.7" cy="91.3" r="3.5" fill="none" stroke="#dadada" stroke-width="1.2" opacity="0.45"/><circle cx="321.2" cy="91.8" r="3.4" fill="none" stroke="#dadada" stroke-width="1.2" opacity="0.45"/><circle cx="331.8" cy="91.3" r="3.5" fill="none" stroke="#dadada" stroke-width="1.2" opacity="0.45"/><circle cx="338.5" cy="92.2" r="3.2" fill="none" stroke="#dadada" stroke-width="1.2" opacity="0.45"/><circle cx="346.9" cy="92.7" r="3.0" fill="none" stroke="#dadada" stroke-width="1.2" opacity="0.45"/><circle cx="354.2" cy="90.4" r="3.5" fill="none" stroke="#dadada" stroke-width="1.2" opacity="0.45"/><circle cx="362.4" cy="92.3" r="3.4" fill="none" stroke="#dadada" stroke-width="1.2" opacity="0.45"/><circle cx="371.4" cy="91.5" r="2.9" fill="none" stroke="#dadada" stroke-width="1.2" opacity="0.45"/><circle cx="295.7" cy="98.6" r="3.6" fill="none" stroke="#dadada" stroke-width="1.2" opacity="0.45"/><circle cx="302.0" cy="99.2" r="3.0" fill="none" stroke="#dadada" stroke-width="1.2" opacity="0.45"/><circle cx="309.5" cy="97.6" r="3.3" fill="none" stroke="#dadada" stroke-width="1.2" opacity="0.45"/><circle cx="317.7" cy="98.0" r="3.5" fill="none" stroke="#dadada" stroke-width="1.2" opacity="0.45"/><circle cx="326.3" cy="98.1" r="3.5" fill="none" stroke="#dadada" stroke-width="1.2" opacity="0.45"/><circle cx="334.7" cy="99.4" r="3.3" fill="none" stroke="#dadada" stroke-width="1.2" opacity="0.45"/><circle cx="343.3" cy="96.9" r="3.0" fill="none" stroke="#dadada" stroke-width="1.2" opacity="0.45"/><circle cx="349.6" cy="99.0" r="3.2" fill="none" stroke="#dadada" stroke-width="1.2" opacity="0.45"/><circle cx="360.4" cy="98.4" r="3.3" fill="none" stroke="#dadada" stroke-width="1.2" opacity="0.45"/><circle cx="298.3" cy="104.3" r="3.4" fill="none" stroke="#dadada" stroke-width="1.2" opacity="0.45"/><circle cx="306.3" cy="105.2" r="3.5" fill="none" stroke="#dadada" stroke-width="1.2" opacity="0.45"/><circle cx="314.3" cy="105.3" r="3.3" fill="none" stroke="#dadada" stroke-width="1.2" opacity="0.45"/><circle cx="323.4" cy="104.9" r="3.2" fill="none" stroke="#dadada" stroke-width="1.2" opacity="0.45"/><circle cx="332.5" cy="105.6" r="3.6" fill="none" stroke="#dadada" stroke-width="1.2" opacity="0.45"/><circle cx="338.2" cy="105.2" r="3.5" fill="none" stroke="#dadada" stroke-width="1.2" opacity="0.45"/><circle cx="346.0" cy="103.9" r="3.0" fill="none" stroke="#dadada" stroke-width="1.2" opacity="0.45"/><circle cx="354.6" cy="103.8" r="3.4" fill="none" stroke="#dadada" stroke-width="1.2" opacity="0.45"/><circle cx="365.1" cy="104.0" r="3.4" fill="none" stroke="#dadada" stroke-width="1.2" opacity="0.45"/><circle cx="370.6" cy="106.1" r="3.1" fill="none" stroke="#dadada" stroke-width="1.2" opacity="0.45"/><ellipse cx="295.8" cy="71.9" rx="2.1" ry="2.6" fill="#1a1a1a" opacity="0.85"/><ellipse cx="302.8" cy="69.7" rx="1.9" ry="2.0" fill="#1a1a1a" opacity="0.85"/><ellipse cx="309.0" cy="69.8" rx="1.9" ry="2.0" fill="#1a1a1a" opacity="0.85"/><ellipse cx="317.7" cy="70.7" rx="1.9" ry="2.3" fill="#1a1a1a" opacity="0.85"/><ellipse cx="326.6" cy="71.1" rx="2.4" ry="2.8" fill="#1a1a1a" opacity="0.85"/><ellipse cx="336.3" cy="70.4" rx="2.1" ry="2.0" fill="#1a1a1a" opacity="0.85"/><ellipse cx="344.6" cy="72.3" rx="1.9" ry="2.0" fill="#1a1a1a" opacity="0.85"/><ellipse cx="350.4" cy="70.3" rx="2.2" ry="2.4" fill="#1a1a1a" opacity="0.85"/><ellipse cx="358.7" cy="69.6" rx="2.1" ry="2.1" fill="#1a1a1a" opacity="0.85"/><ellipse cx="368.0" cy="72.3" rx="2.2" ry="2.1" fill="#1a1a1a" opacity="0.85"/><ellipse cx="307.7" cy="78.6" rx="2.4" ry="2.4" fill="#1a1a1a" opacity="0.85"/><ellipse cx="329.9" cy="76.9" rx="1.8" ry="2.1" fill="#1a1a1a" opacity="0.85"/><ellipse cx="346.8" cy="76.5" rx="2.2" ry="2.0" fill="#1a1a1a" opacity="0.85"/><ellipse cx="354.2" cy="77.1" rx="2.1" ry="2.2" fill="#1a1a1a" opacity="0.85"/><ellipse cx="362.3" cy="78.8" rx="2.1" ry="2.2" fill="#1a1a1a" opacity="0.85"/><ellipse cx="293.4" cy="83.9" rx="1.9" ry="1.7" fill="#1a1a1a" opacity="0.85"/><ellipse cx="300.5" cy="85.9" rx="1.9" ry="1.9" fill="#1a1a1a" opacity="0.85"/><ellipse cx="310.6" cy="83.3" rx="2.5" ry="2.8" fill="#1a1a1a" opacity="0.85"/><ellipse cx="319.9" cy="85.1" rx="2.1" ry="2.2" fill="#1a1a1a" opacity="0.85"/><ellipse cx="325.6" cy="85.4" rx="2.3" ry="2.2" fill="#1a1a1a" opacity="0.85"/><ellipse cx="334.4" cy="83.8" rx="2.5" ry="3.1" fill="#1a1a1a" opacity="0.85"/><ellipse cx="344.5" cy="85.5" rx="2.3" ry="2.7" fill="#1a1a1a" opacity="0.85"/><ellipse cx="350.4" cy="84.6" rx="1.8" ry="2.3" fill="#1a1a1a" opacity="0.85"/><ellipse cx="357.9" cy="84.0" rx="2.3" ry="2.1" fill="#1a1a1a" opacity="0.85"/><ellipse cx="369.4" cy="84.5" rx="2.5" ry="2.5" fill="#1a1a1a" opacity="0.85"/><ellipse cx="299.7" cy="91.0" rx="2.0" ry="1.8" fill="#1a1a1a" opacity="0.85"/><ellipse cx="305.2" cy="90.6" rx="2.4" ry="2.8" fill="#1a1a1a" opacity="0.85"/><ellipse cx="315.7" cy="91.3" rx="2.4" ry="2.3" fill="#1a1a1a" opacity="0.85"/><ellipse cx="321.2" cy="91.8" rx="2.3" ry="2.2" fill="#1a1a1a" opacity="0.85"/><ellipse cx="331.8" cy="91.3" rx="2.4" ry="2.5" fill="#1a1a1a" opacity="0.85"/><ellipse cx="338.5" cy="92.2" rx="2.1" ry="2.5" fill="#1a1a1a" opacity="0.85"/><ellipse cx="346.9" cy="92.7" rx="1.9" ry="2.3" fill="#1a1a1a" opacity="0.85"/><ellipse cx="354.2" cy="90.4" rx="2.4" ry="2.3" fill="#1a1a1a" opacity="0.85"/><ellipse cx="362.4" cy="92.3" rx="2.3" ry="2.2" fill="#1a1a1a" opacity="0.85"/><ellipse cx="371.4" cy="91.5" rx="1.8" ry="2.2" fill="#1a1a1a" opacity="0.85"/><ellipse cx="295.7" cy="98.6" rx="2.5" ry="2.7" fill="#1a1a1a" opacity="0.85"/><ellipse cx="302.0" cy="99.2" rx="1.9" ry="2.2" fill="#1a1a1a" opacity="0.85"/><ellipse cx="309.5" cy="97.6" rx="2.2" ry="2.1" fill="#1a1a1a" opacity="0.85"/><ellipse cx="317.7" cy="98.0" rx="2.4" ry="2.2" fill="#1a1a1a" opacity="0.85"/><ellipse cx="326.3" cy="98.1" rx="2.4" ry="2.8" fill="#1a1a1a" opacity="0.85"/><ellipse cx="334.7" cy="99.4" rx="2.2" ry="2.3" fill="#1a1a1a" opacity="0.85"/><ellipse cx="343.3" cy="96.9" rx="1.9" ry="1.8" fill="#1a1a1a" opacity="0.85"/><ellipse cx="349.6" cy="99.0" rx="2.1" ry="2.6" fill="#1a1a1a" opacity="0.85"/><ellipse cx="360.4" cy="98.4" rx="2.2" ry="2.4" fill="#1a1a1a" opacity="0.85"/><ellipse cx="298.3" cy="104.3" rx="2.3" ry="2.8" fill="#1a1a1a" opacity="0.85"/><ellipse cx="306.3" cy="105.2" rx="2.4" ry="2.3" fill="#1a1a1a" opacity="0.85"/><ellipse cx="314.3" cy="105.3" rx="2.2" ry="2.6" fill="#1a1a1a" opacity="0.85"/><ellipse cx="323.4" cy="104.9" rx="2.1" ry="2.0" fill="#1a1a1a" opacity="0.85"/><ellipse cx="332.5" cy="105.6" rx="2.5" ry="3.0" fill="#1a1a1a" opacity="0.85"/><ellipse cx="338.2" cy="105.2" rx="2.4" ry="2.5" fill="#1a1a1a" opacity="0.85"/><ellipse cx="346.0" cy="103.9" rx="1.9" ry="1.9" fill="#1a1a1a" opacity="0.85"/><ellipse cx="354.6" cy="103.8" rx="2.3" ry="2.6" fill="#1a1a1a" opacity="0.85"/><ellipse cx="365.1" cy="104.0" rx="2.3" ry="2.8" fill="#1a1a1a" opacity="0.85"/><ellipse cx="370.6" cy="106.1" rx="2.0" ry="1.9" fill="#1a1a1a" opacity="0.85"/></g></g>
<circle cx="301.4" cy="219.2" r="0.55" fill="#d4d4d4"/><circle cx="309.4" cy="192.9" r="0.55" fill="#d4d4d4"/><circle cx="303.8" cy="189.2" r="0.55" fill="#d4d4d4"/><circle cx="306.7" cy="205.7" r="0.55" fill="#d4d4d4"/><circle cx="314.3" cy="233.8" r="0.55" fill="#d4d4d4"/><circle cx="313.2" cy="217.5" r="0.55" fill="#d4d4d4"/><circle cx="305.0" cy="207.9" r="0.55" fill="#d4d4d4"/><circle cx="293.3" cy="201.8" r="0.55" fill="#d4d4d4"/><circle cx="293.1" cy="232.2" r="0.55" fill="#d4d4d4"/><circle cx="332.2" cy="197.9" r="0.55" fill="#d4d4d4"/><circle cx="326.7" cy="244.9" r="0.55" fill="#d4d4d4"/><circle cx="299.8" cy="237.6" r="0.55" fill="#d4d4d4"/><circle cx="323.5" cy="217.2" r="0.55" fill="#d4d4d4"/><circle cx="352.9" cy="210.8" r="0.55" fill="#d4d4d4"/><circle cx="329.0" cy="229.3" r="0.55" fill="#d4d4d4"/><circle cx="363.7" cy="207.6" r="0.55" fill="#d4d4d4"/><circle cx="352.8" cy="230.5" r="0.55" fill="#d4d4d4"/><circle cx="338.4" cy="211.5" r="0.55" fill="#d4d4d4"/><circle cx="317.4" cy="189.4" r="0.55" fill="#d4d4d4"/><circle cx="301.5" cy="190.5" r="0.55" fill="#d4d4d4"/><circle cx="346.1" cy="202.1" r="0.55" fill="#d4d4d4"/><circle cx="303.9" cy="191.3" r="0.55" fill="#d4d4d4"/><circle cx="353.4" cy="240.8" r="0.55" fill="#d4d4d4"/><circle cx="340.9" cy="203.8" r="0.55" fill="#d4d4d4"/><circle cx="309.7" cy="204.5" r="0.55" fill="#d4d4d4"/><circle cx="325.5" cy="195.9" r="0.55" fill="#d4d4d4"/><circle cx="324.5" cy="202.6" r="0.55" fill="#d4d4d4"/><circle cx="362.2" cy="247.3" r="0.55" fill="#d4d4d4"/><circle cx="331.9" cy="201.4" r="0.55" fill="#d4d4d4"/><circle cx="362.5" cy="205.5" r="0.55" fill="#d4d4d4"/><circle cx="318.0" cy="186.1" r="0.55" fill="#d4d4d4"/><circle cx="319.9" cy="215.9" r="0.55" fill="#d4d4d4"/><circle cx="328.7" cy="198.7" r="0.55" fill="#d4d4d4"/><circle cx="328.8" cy="186.3" r="0.55" fill="#d4d4d4"/><circle cx="311.3" cy="191.7" r="0.55" fill="#d4d4d4"/><circle cx="321.2" cy="188.6" r="0.55" fill="#d4d4d4"/><circle cx="293.6" cy="205.2" r="0.55" fill="#d4d4d4"/><circle cx="309.0" cy="222.9" r="0.55" fill="#d4d4d4"/><circle cx="330.6" cy="233.3" r="0.55" fill="#d4d4d4"/><circle cx="340.0" cy="231.1" r="0.55" fill="#d4d4d4"/><circle cx="356.2" cy="210.5" r="0.55" fill="#d4d4d4"/><circle cx="315.8" cy="248.0" r="0.55" fill="#d4d4d4"/><circle cx="302.9" cy="231.6" r="0.55" fill="#d4d4d4"/><circle cx="339.0" cy="188.8" r="0.55" fill="#d4d4d4"/><circle cx="353.0" cy="242.2" r="0.55" fill="#d4d4d4"/>
</g>
<line x1="291.8" y1="67.5" x2="291.8" y2="250" stroke="#333" stroke-width="1.1"/>
<line x1="364.7" y1="67.5" x2="364.7" y2="250" stroke="#858585" stroke-width="1.1"/>
<line x1="291.5" y1="67.9" x2="365" y2="67.9" stroke="#2a2a2a" stroke-width="0.8"/>
<line x1="291.5" y1="249.6" x2="365" y2="249.6" stroke="#555" stroke-width="1"/>
<text x="298" y="243.4" font-family="Liberation Sans, Arial, sans-serif" font-weight="bold" font-size="8.4" fill="#2a2a2a" textLength="22.7" lengthAdjust="spacingAndGlyphs" stroke="#fff" stroke-width="0.6" paint-order="stroke">10 nm</text>
<rect x="297.2" y="245.4" width="26.7" height="1.5" fill="#333"/></svg>
</body></html>
